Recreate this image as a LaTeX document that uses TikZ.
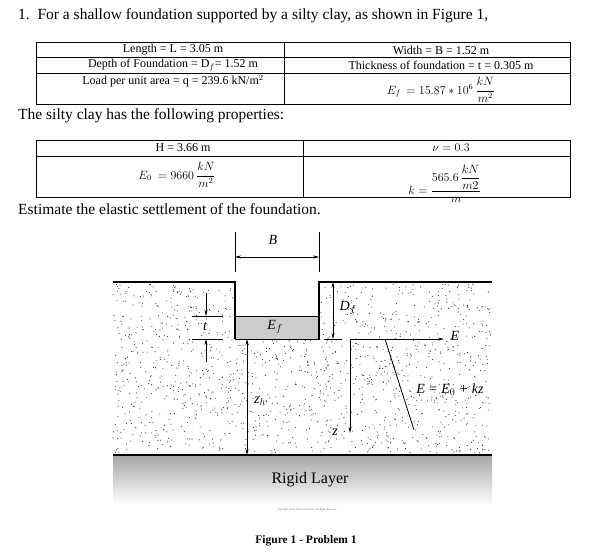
\documentclass[tikz,border=0pt]{standalone}
\usepackage{amsmath}
\usepackage{fontspec}
\setmainfont{Liberation Serif}
\usetikzlibrary{arrows.meta}
\begin{document}
\begin{tikzpicture}[x=1pt,y=-1pt,
  tbl/.style={draw,line width=0.8pt},
  tx/.style={font=\fontsize{12}{13}\selectfont,inner sep=0pt},
  big/.style={font=\fontsize{15.5}{17}\selectfont,inner sep=0pt,anchor=west},
  dim/.style={-{Stealth[length=6pt,width=3pt]},line width=0.6pt},
  ddim/.style={{Stealth[length=6pt,width=3pt]}-{Stealth[length=6pt,width=3pt]},line width=0.6pt},
  soil/.style={line width=1.2pt},
  lab/.style={font=\fontsize{14}{16}\selectfont\itshape,inner sep=1pt}]
\useasboundingbox (0,0) rectangle (611,559);
\fill[white] (0,0) rectangle (611,559);
% text
\node[big] (title) at (18,16) {1.\ \ For a shallow foundation supported by a silty clay, as shown in Figure 1,};
\draw[tbl] (36,42) rectangle (570,104);
\draw[tbl] (36,57) -- (570,57) (36,73) -- (570,73) (284,42) -- (284,104);
\node[tx] (l1) at (173,50) {Length = L = 3.05 m};
\node[tx] (w1) at (441,50) {Width = B = 1.52 m};
\node[tx] (d1) at (173,65) {Depth of Foundation = D$_f$= 1.52 m};
\node[tx] (t1) at (441,65) {Thickness of foundation = t = 0.305 m};
\node[tx] (q1) at (173,81) {Load per unit area = q = 239.6 kN/m$^2$};
\node[tx] (e1) at (441,90) {$E_f\,=15.87*10^6\,\dfrac{kN}{m^2}$};
\node[big] (silty) at (18,116) {The silty clay has the following properties:};
\draw[tbl] (36,140) rectangle (570,197);
\draw[tbl] (36,156) -- (570,156) (303,140) -- (303,197);
\node[tx] (h2) at (183,148) {H = 3.66 m};
\node[tx] (n2) at (451,148) {$\nu=0.3$};
\node[tx] (e2) at (177,175) {$E_0\ =9660\,\dfrac{kN}{m^2}$};
\node[tx] (k2) at (445,184) {$k=\dfrac{565.6\,\dfrac{kN}{m2}}{m}$};
\node[big] (est) at (18,209) {Estimate the elastic settlement of the foundation.};
% soil stipple
\pgfmathsetseed{11}
\foreach \i in {1,...,1500}{
  \pgfmathsetmacro\px{113+379*rnd}
  \pgfmathsetmacro\py{284+169*rnd}
  \fill[black!80] (\px,\py) circle (0.55);
}
\fill[white] (235,280) rectangle (319,316);
% rigid layer
\shade[top color=black!35,bottom color=white] (113,455) rectangle (492,505);
\node[font=\fontsize{16}{18}\selectfont,inner sep=0pt] (rigid) at (310,480) {Rigid Layer};
\node[font=\fontsize{2.5}{3}\selectfont,inner sep=0pt,text=black!60] (copy) at (307,510) {Copyright \copyright 2016 Pearson Education, All Rights Reserved};
\node[font=\fontsize{11.5}{13}\selectfont\bfseries,inner sep=0pt] (fig) at (306,541) {Figure 1 - Problem 1};
% foundation
\draw[line width=1pt,fill=black!20] (235,316) rectangle (319,339);
\draw[soil] (113,282) -- (235,282) -- (235,339);
\draw[soil] (492,282) -- (319,282) -- (319,339);
\draw[soil] (113,455) -- (492,455);
\node[lab] (ef) at (275,327) {E$_f$};
% B
\coordinate (bl) at (235,257); \coordinate (br) at (319,257);
\draw[line width=0.8pt] (235,232) -- (235,272) (319,232) -- (319,272);
\draw[ddim] (bl) -- (br);
\node[lab] (B) at (273,240) {B};
% t
\draw[line width=0.8pt] (192,316) -- (223,316) (192,339) -- (223,339);
\coordinate (ta) at (206,293); \coordinate (tb) at (206,316);
\coordinate (tc) at (206,362); \coordinate (td) at (206,339);
\draw[dim] (ta) -- (tb); \draw[dim] (tc) -- (td);
\node[lab,fill=white,inner sep=0.5pt] (t) at (205,327) {t};
% Df
\coordinate (da) at (333,282); \coordinate (db) at (333,339);
\draw[ddim] (da) -- (db);
\draw[line width=0.8pt] (324,339) -- (342,339);
\node[lab] (df) at (348,308) {D$_f$};
% zh
\coordinate (za) at (247,339); \coordinate (zb) at (247,455);
\draw[ddim] (za) -- (zb);
\node[lab] (zh) at (260,401) {z$_h$};
% axes
\coordinate (o) at (350,339); \coordinate (ex) at (444,339); \coordinate (zz) at (350,433);
\draw[dim,line width=0.8pt] (o) -- (ex);
\draw[dim,line width=0.8pt] (o) -- (zz);
\node[lab] (E) at (455,336) {E};
\node[lab] (z) at (335,432) {z};
\coordinate (s1) at (385,339); \coordinate (s2) at (414,430);
\draw[line width=0.8pt] (s1) -- (s2);
\node[lab] (law) at (450,390) {E = E$_0$ + kz};
\end{tikzpicture}
\end{document}
